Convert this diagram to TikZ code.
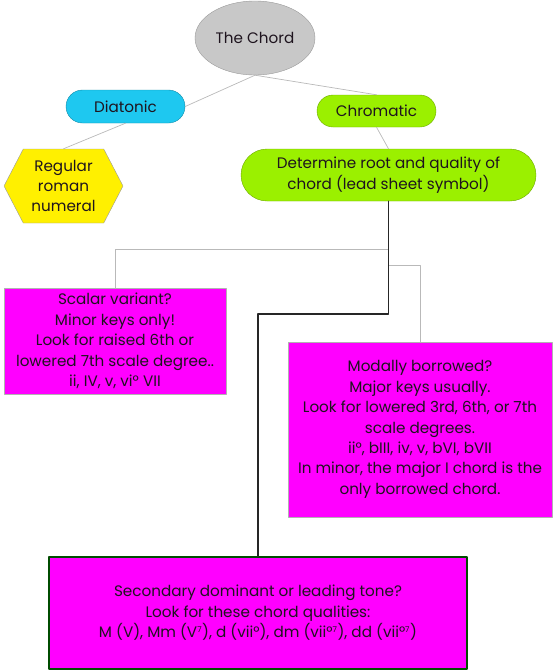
\documentclass[tikz,border=0pt]{standalone}
\usepackage{fontspec}
\setmainfont{Poppins}
\usepackage{tikz}
\usetikzlibrary{shapes.geometric,shapes.misc,shapes.symbols,positioning}
\definecolor{chordgray}{RGB}{200,200,200}
\definecolor{diacyan}{RGB}{30,200,240}
\definecolor{chromlime}{RGB}{155,240,0}
\definecolor{hexyellow}{RGB}{255,240,0}
\definecolor{boxpink}{RGB}{255,0,255}
\definecolor{inkdark}{RGB}{30,20,30}
\newcommand{\qualsup}[1]{\textsuperscript{\fontsize{8}{8}\selectfont#1}}

\begin{document}
\begin{tikzpicture}[x=1pt, y=-1pt, font=\fontsize{15.2}{20.4}\selectfont, line cap=round, line join=round, text=inkdark, inner sep=0pt,
  pill/.style={rounded rectangle, fill=chromlime, draw=chromlime!70!black, line width=0.4pt, align=center},
  pinkbox/.style={rectangle, fill=boxpink, draw=gray!60, line width=0.5pt, align=center},
  greyline/.style={draw=gray!55, line width=0.7pt},
  mainline/.style={draw=black!85, line width=1.3pt}]
\useasboundingbox (0,0) rectangle (555,670);
\node[ellipse, fill=chordgray, draw=gray!80, minimum width=120, minimum height=74] (chord) at (255,38) {The Chord};
\node[pill, fill=diacyan, draw=diacyan!70!black, minimum width=119, minimum height=33] (dia) at (125.5,106.5) {Diatonic};
\node[pill, minimum width=119, minimum height=32] (chrom) at (376.5,111) {Chromatic};
\node[signal, signal to=west and east, signal pointer angle=125, fill=hexyellow, draw=gray!80, minimum width=119, minimum height=74, align=center] (roman) at (63.5,186) {Regular\\roman\\numeral};
\node[pill, minimum width=295, minimum height=52] (root) at (388.5,175) {Determine root and quality of\\chord (lead sheet symbol)};
\node[pinkbox, minimum width=222, minimum height=106] (scalar) at (115,341) {Scalar variant?\\Minor keys only!\\Look for raised 6th or\\lowered 7th scale degree..\\ii, IV, v, vi° VII};
\node[pinkbox, minimum width=264, minimum height=175] (modal) at (420,429.5) {Modally borrowed?\\Major keys usually.\\Look for lowered 3rd, 6th, or 7th\\scale degrees.\\ii°, bIII, iv, v, bVI, bVII\\In minor, the major I chord is the\\only borrowed chord.};
\node[pinkbox, draw=black!70!green, line width=1.2pt, minimum width=418, minimum height=112] (second) at (258,613) {Secondary dominant or leading tone?\\Look for these chord qualities:\\M (V), Mm (V\qualsup{7}), d (vii°), dm (vii°\qualsup{7}), dd (vii°\qualsup{7})};
\coordinate (bend) at (386,314);
\draw[greyline] (chord.south) -- (dia.east);
\draw[greyline] (chord.south) -- (chrom.north);
\draw[greyline] (dia.south) -- (roman.north);
\draw[greyline] (chrom.south) -- (root.north);
\draw[greyline] (root.south) ++(0,48) -| (scalar.north);
\draw[greyline] (root.south) ++(0,64) -| (modal.north);
\draw[mainline] (root.south) -- (root.south |- bend) -| (second.north);
\end{tikzpicture}
\end{document}
